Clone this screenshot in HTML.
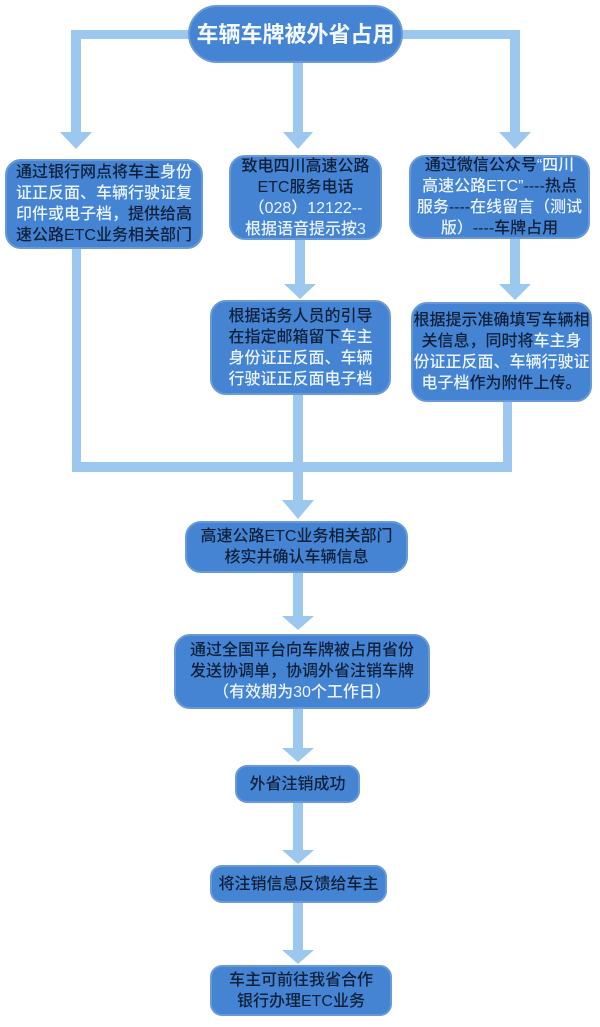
<!DOCTYPE html>
<html><head><meta charset="utf-8"><style>
body{margin:0;width:600px;height:1027px;background:#fff;position:relative;overflow:hidden;font-family:"Liberation Sans","Noto Sans CJK SC",sans-serif;}
.b{position:absolute;background:#4484d3;border:2px solid #6a9ad6;border-radius:16px;box-sizing:border-box;display:flex;align-items:center;justify-content:center;text-align:center;color:#10203a;font-size:16px;line-height:21px;font-weight:500;white-space:nowrap;}
.b>div{display:block;}
.w{color:#eaf3ff;}
svg{position:absolute;left:0;top:0;}
</style></head><body>
<svg width="600" height="1027">
<g fill="#9cc8f0">
<rect x="71" y="30" width="120" height="9"/>
<rect x="400" y="30" width="120" height="9"/>
<rect x="71" y="30" width="10" height="104"/>
<rect x="510" y="30" width="10" height="104"/>
<rect x="293" y="62" width="10" height="72"/>
<polygon points="60,132 92,132 76,149"/>
<polygon points="283,132 313,132 298,149"/>
<polygon points="499,132 531,132 515,149"/>
<rect x="295" y="240" width="10" height="45"/>
<polygon points="284,284 316,284 300,299"/>
<rect x="510" y="238" width="10" height="47"/>
<polygon points="499,284 531,284 515,300"/>
<rect x="72" y="248" width="9" height="224"/>
<rect x="503" y="400" width="9" height="72"/>
<rect x="72" y="462" width="440" height="10"/>
<rect x="293" y="395" width="10" height="108"/>
<polygon points="282,500 314,500 298,519"/>
<rect x="293" y="572" width="10" height="47"/>
<polygon points="282,616 314,616 298,630"/>
<rect x="293" y="708" width="10" height="43"/>
<polygon points="282,748 314,748 298,762"/>
<rect x="293" y="803" width="10" height="50"/>
<polygon points="282,850 314,850 298,864"/>
<rect x="293" y="903" width="10" height="50"/>
<polygon points="282,950 314,950 298,964"/>
</g>
</svg>
<div class="b" style="left:188px;top:5px;width:215px;height:58px;border-radius:29px;color:#f4f8ff;font-size:22px;font-weight:bold;"><div>车辆车牌被外省占用</div></div>
<div class="b" style="left:5px;top:159px;width:198px;height:90px;"><div>通过银行网点将车主<span class="w">身份<br>证正反面、车辆行驶证复<br>印件或电子档，</span>提供给高<br>速公路ETC业务相关部门</div></div>
<div class="b" style="left:229px;top:155px;width:153px;height:85px;"><div>致电四川高速公路<br>ETC服务电话<br><span class="w">（028）12122--<br>根据语音提示按3</span></div></div>
<div class="b" style="left:409px;top:155px;width:181px;height:84px;"><div>通过微信公众号<span class="w">“四川<br>高速公路ETC”</span>----热点<br><span class="w">服务</span>----<span class="w">在线留言（测试<br>版）</span>----车牌占用</div></div>
<div class="b" style="left:210px;top:300px;width:181px;height:95px;"><div>根据话务人员的引导<br>在指定邮箱留下<span class="w">车主<br>身份证正反面、车辆<br>行驶证正反面电子档</span></div></div>
<div class="b" style="left:411px;top:302px;width:181px;height:100px;"><div>根据提示准确填写车辆相<br>关信息，同时将<span class="w">车主身<br>份证正反面、车辆行驶证<br>电子档</span>作为附件上传。</div></div>
<div class="b" style="left:185px;top:521px;width:223px;height:52px;"><div>高速公路ETC业务相关部门<br>核实并确认车辆信息</div></div>
<div class="b" style="left:174px;top:634px;width:256px;height:75px;"><div>通过全国平台向车牌被占用省份<br>发送协调单，协调外省注销车牌<br><span class="w">（有效期为30个工作日）</span></div></div>
<div class="b" style="left:235px;top:765px;width:125px;height:38px;border-radius:12px;"><div>外省注销成功</div></div>
<div class="b" style="left:210px;top:865px;width:177px;height:38px;border-radius:12px;"><div>将注销信息反馈给车主</div></div>
<div class="b" style="left:210px;top:965px;width:182px;height:51px;border-radius:12px;"><div>车主可前往我省合作<br>银行办理ETC业务</div></div>
</body></html>
